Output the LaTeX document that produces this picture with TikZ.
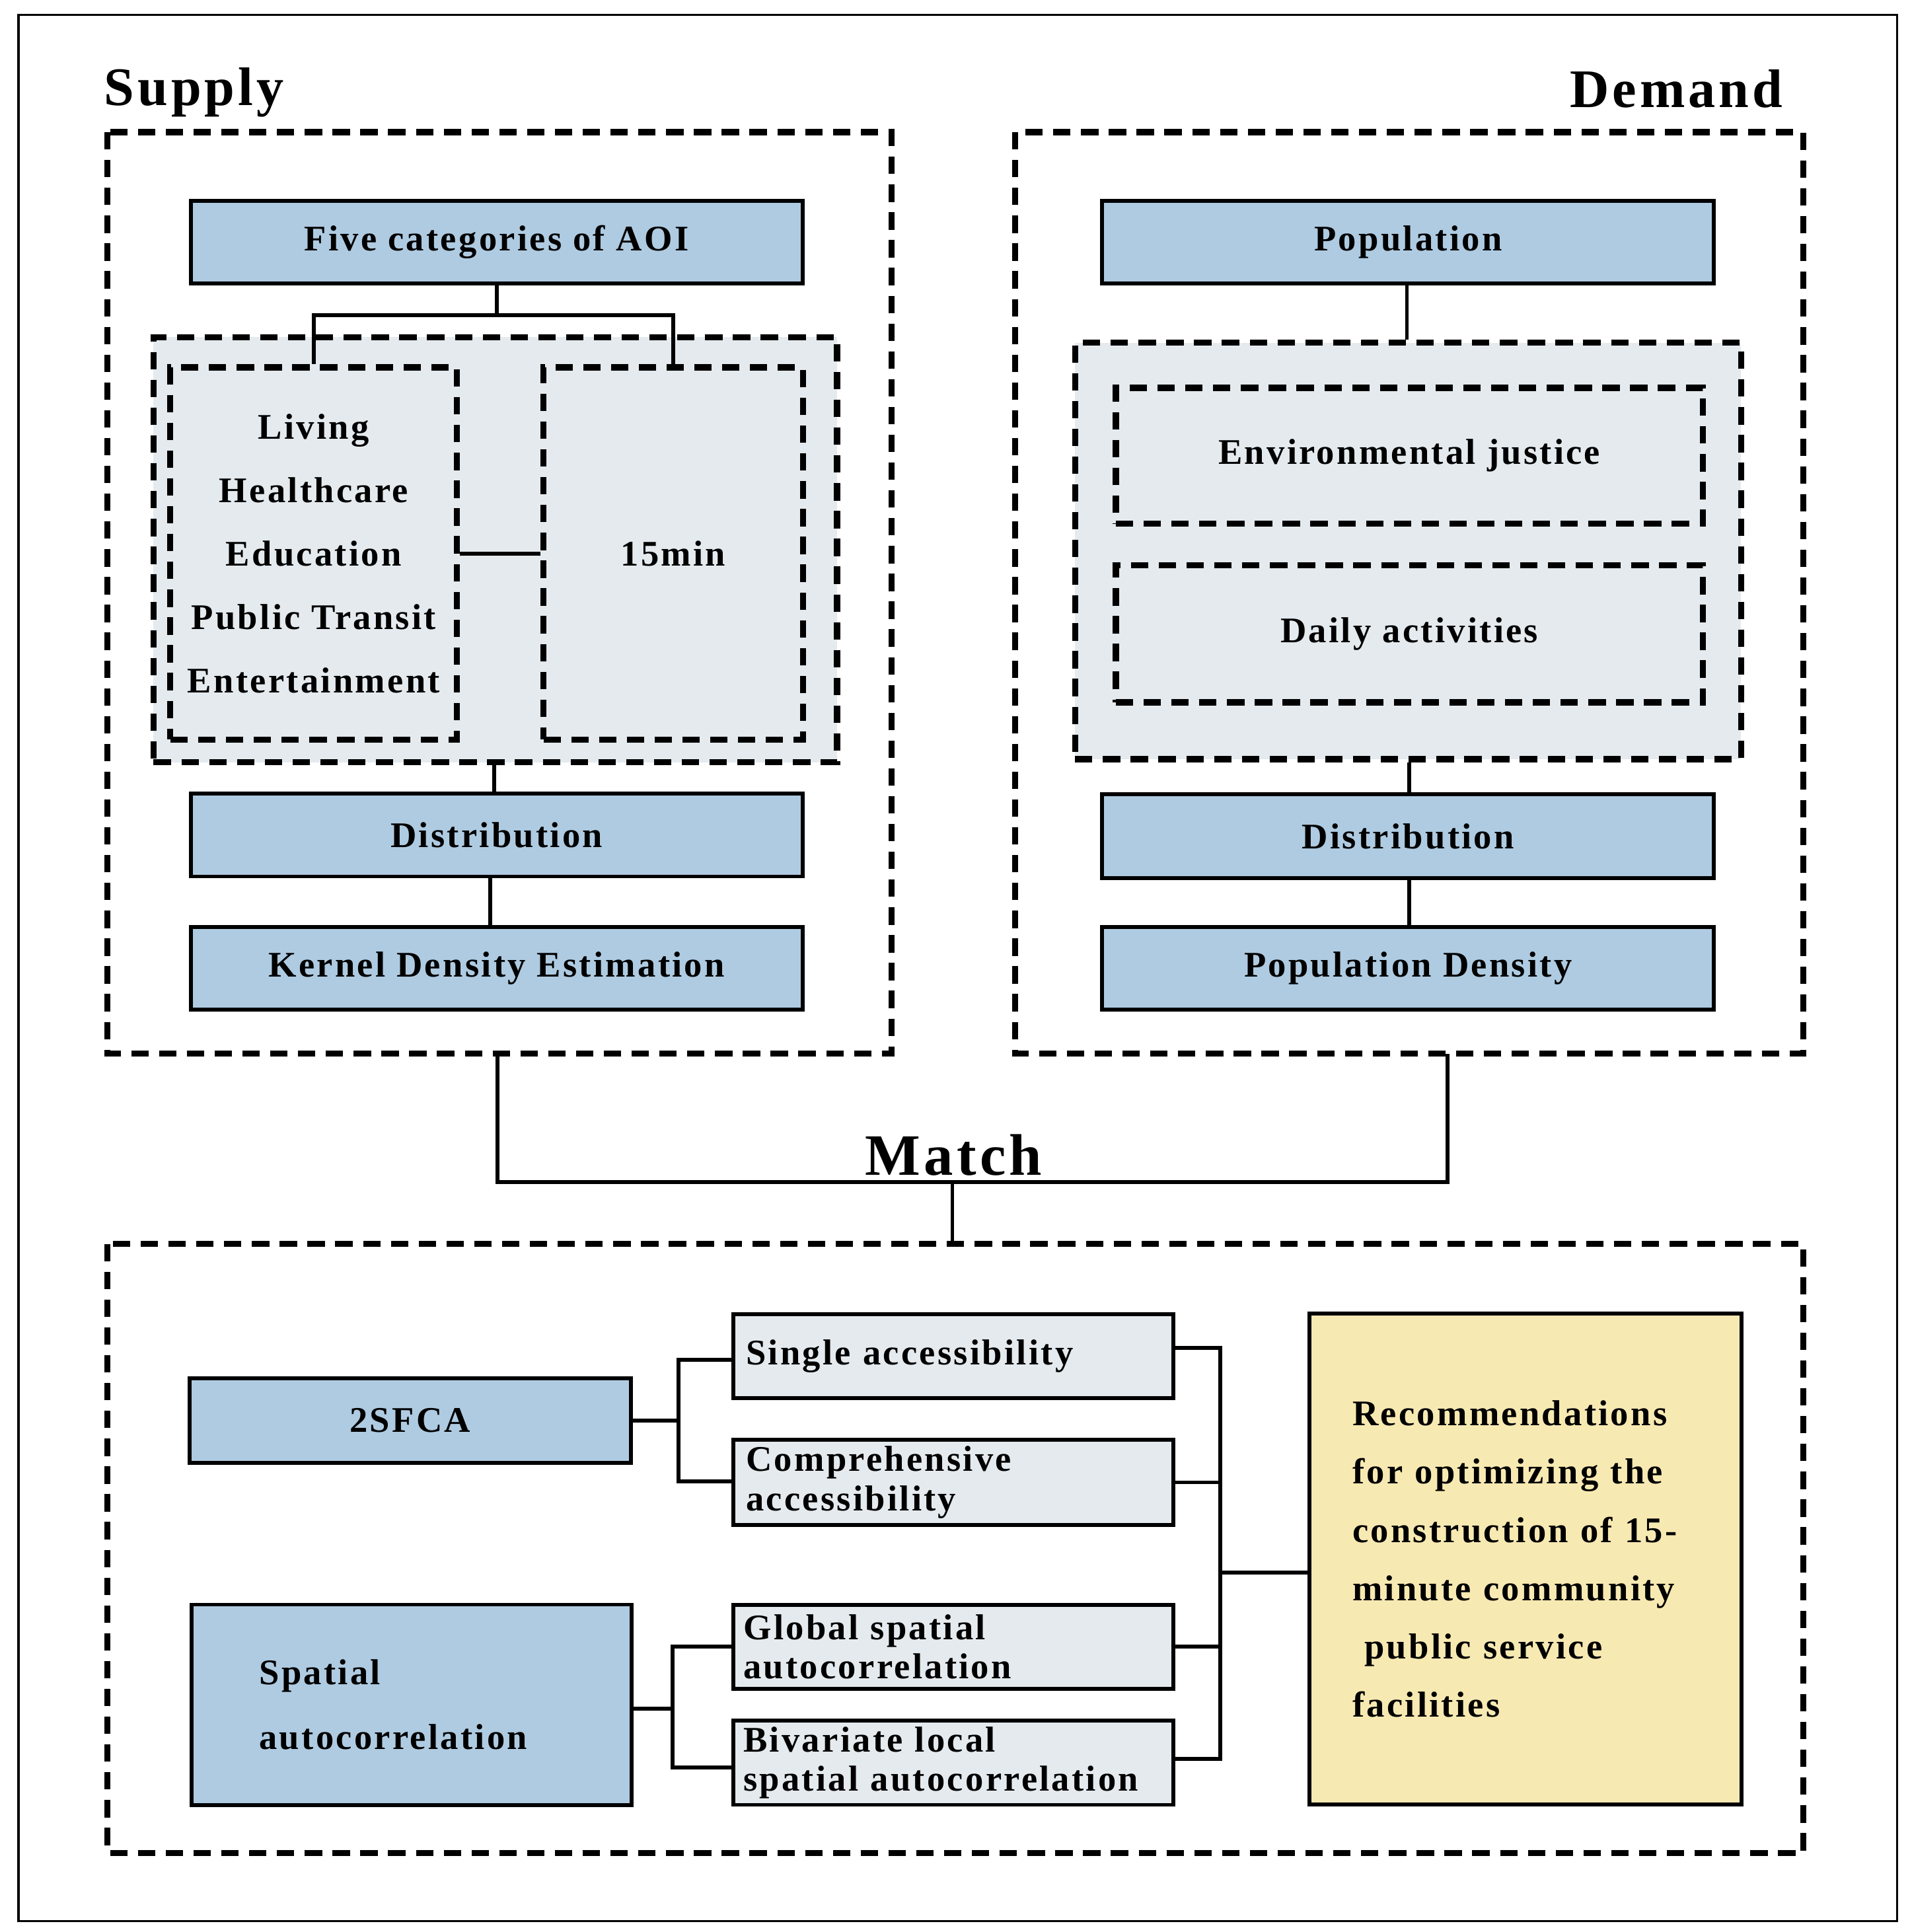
\documentclass[tikz,border=0pt]{standalone}
\usepackage{fontspec}
\setmainfont{Liberation Serif}[LetterSpace=6]
\usetikzlibrary{positioning}
\definecolor{boxblue}{RGB}{175,203,225}
\definecolor{boxgrey}{RGB}{228,234,238}
\definecolor{boxyellow}{RGB}{247,233,178}
\tikzset{
  blk/.style={draw, line width=0.9pt, fill=boxblue, inner sep=0pt, font=\fontsize{8.3}{9}\selectfont\bfseries},
  sub/.style={blk, fill=boxgrey, align=left},
  grp/.style={draw, line width=1.4pt, dash pattern=on 4pt off 2.4pt, inner sep=0pt},
  link/.style={line width=0.9pt},
  ttl/.style={font=\fontsize{12.5}{14}\selectfont\bfseries}
}
\begin{document}
\begin{tikzpicture}[x=0.01cm, y=-0.01cm]
  \useasboundingbox (0,0) rectangle (1546,1564);
  \draw[line width=0.5pt] (15,12) rectangle (1536,1555);
  % groups
  \draw[grp] (87,107) rectangle (722,853);
  \draw[grp] (822,107) rectangle (1460,853);
  \draw[grp] (87,1007) rectangle (1460,1500);
  \node[ttl] (supply) at (157,75) {Supply};
  \node[ttl] (demand) at (1357,72) {Demand};
  \node[ttl, font=\fontsize{13.5}{15}\selectfont\bfseries] (match) at (772,935) {Match};
  \coordinate (supbot) at (403,853);
  \coordinate (dembot) at (1172,853);
  \coordinate (bottop) at (771,1007);

  % supply
  \node[blk, minimum width=4.95cm, minimum height=0.67cm] (aoi) at (402,196) {Five categories of AOI};
  \node[grp, fill=boxgrey, minimum width=5.53cm, minimum height=3.44cm] (aoigrp) at (401,445) {};
  \node[grp, minimum width=2.32cm, minimum height=3.01cm, align=center,
        font=\fontsize{8.3}{14.6}\selectfont\bfseries] (cats) at (254,448)
        {Living\\Healthcare\\Education\\Public Transit\\Entertainment};
  \node[grp, minimum width=2.10cm, minimum height=3.01cm, font=\fontsize{8.3}{9}\selectfont\bfseries] (time) at (545,448) {15min};
  \node[blk, minimum width=4.95cm, minimum height=0.67cm] (sdist) at (402,676) {Distribution};
  \node[blk, minimum width=4.95cm, minimum height=0.67cm] (kde) at (402,784) {Kernel Density Estimation};
  \draw[link] (aoi.south) -- ++(0,24) coordinate (aoifork);
  \draw[link] (cats.north) |- (aoifork) -| (time.north);
  \draw[link] (cats.east) -- (time.west);
  \draw[link] (aoigrp.south -| 400,0) -- (sdist.north -| 400,0);
  \draw[link] (sdist.south -| 397,0) -- (kde.north -| 397,0);

  % demand
  \node[blk, minimum width=4.95cm, minimum height=0.67cm] (pop) at (1140,196) {Population};
  \node[grp, fill=boxgrey, minimum width=5.39cm, minimum height=3.37cm] (popgrp) at (1140,446) {};
  \node[grp, minimum width=4.75cm, minimum height=1.10cm, font=\fontsize{8.3}{9}\selectfont\bfseries] (env) at (1141,369) {Environmental justice};
  \node[grp, minimum width=4.75cm, minimum height=1.11cm, font=\fontsize{8.3}{9}\selectfont\bfseries] (daily) at (1141,513) {Daily activities};
  \node[blk, minimum width=4.95cm, minimum height=0.68cm] (ddist) at (1140,677) {Distribution};
  \node[blk, minimum width=4.95cm, minimum height=0.67cm] (pden) at (1140,784) {Population Density};
  \draw[link] (pop.south -| 1139,0) -- (popgrp.north -| 1139,0);
  \draw[link] (popgrp.south -| 1141,0) -- (ddist.north -| 1141,0);
  \draw[link] (ddist.south -| 1141,0) -- (pden.north -| 1141,0);

  % match
  \draw[link] (supbot) |- (771,957) coordinate (mfork) -| (dembot);
  \draw[link] (mfork) -- (bottop);

  % methods
  \node[blk, minimum width=3.57cm, minimum height=0.68cm, text width=3.57cm, align=center] (sfca) at (332,1150) {2SFCA\hspace*{0.38cm}};
  \node[blk, minimum width=3.56cm, minimum height=1.62cm, text width=3.56cm, align=left, inner xsep=0pt] (sac) at (333,1380)
        {\hspace*{0.55cm}Spatial\\[6pt]\hspace*{0.55cm}autocorrelation};
  \node[sub, minimum width=3.56cm, minimum height=0.68cm, text width=3.36cm] (single) at (772,1098) {Single accessibility};
  \node[sub, minimum width=3.56cm, minimum height=0.69cm, text width=3.36cm] (comp) at (772,1200) {Comprehensive\\accessibility};
  \node[sub, minimum width=3.56cm, minimum height=0.68cm, text width=3.4cm] (glob) at (772,1333) {Global spatial\\autocorrelation};
  \node[sub, minimum width=3.56cm, minimum height=0.68cm, text width=3.4cm] (biv) at (772,1427) {Bivariate local\\spatial autocorrelation};
  \node[blk, fill=boxyellow, minimum width=3.50cm, minimum height=3.97cm, text width=2.8cm, align=left,
        font=\fontsize{8.3}{13.4}\selectfont\bfseries] (rec) at (1235,1262)
        {Recommendations\\for optimizing the\\construction of 15-\\minute community\\ \ public service\\facilities\\[4pt]};
  \draw[link] (sfca.east) -- ++(37,0) coordinate (sfork);
  \draw[link] (single.west |- 0,1101) -| (sfork) |- (comp.west |- 0,1199);
  \draw[link] (sac.east |- 0,1383) -- ++(32,0) coordinate (afork);
  \draw[link] (glob.west) -| (afork) |- (biv.west |- 0,1431);
  \draw[link] (single.east |- 0,1091) -| (988,1273) coordinate (rfork);
  \draw[link] (biv.east |- 0,1424) -| (rfork);
  \draw[link] (comp.east) -- (comp.east -| rfork);
  \draw[link] (glob.east) -- (glob.east -| rfork);
  \draw[link] (rfork) -- (rec.west |- rfork);
\end{tikzpicture}
\end{document}
